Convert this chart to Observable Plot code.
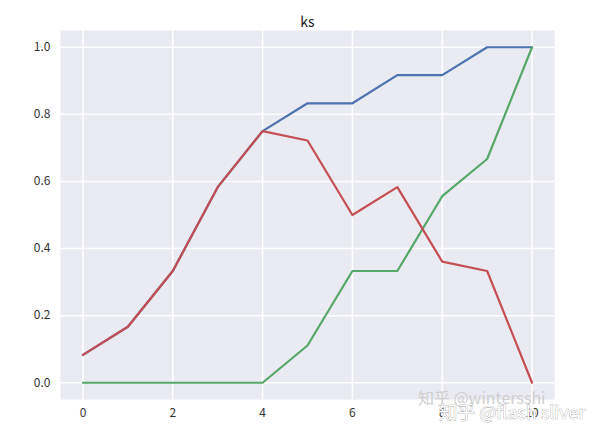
<!DOCTYPE html>
<html><head><meta charset="utf-8">
<script src="https://cdn.jsdelivr.net/npm/d3@7"></script>
<script src="https://cdn.jsdelivr.net/npm/@observablehq/plot@0.6"></script>
<style>
html,body{margin:0;padding:0;background:#fff;}
#chart svg{display:block;}
</style>
</head><body><div id="chart"></div>
<script>
const xs = [0,1,2,3,4,5,6,7,8,9,10];
const tpr = [0.083,0.167,0.333,0.583,0.75,0.833,0.833,0.917,0.917,1.0,1.0];
const fpr = [0,0,0,0,0,0.111,0.333,0.333,0.556,0.667,1.0];
const ks  = [0.083,0.167,0.333,0.583,0.75,0.722,0.5,0.583,0.361,0.333,0.0];
const xTicks = [0,2,4,6,8,10];
const yTicks = [0,0.2,0.4,0.6,0.8,1.0];
const title = "ks";
const series = [
  {name:"tpr", values:tpr, color:"#4C72B0"},
  {name:"fpr", values:fpr, color:"#55A868"},
  {name:"ks",  values:ks,  color:"#C44E52"}
];
const rows = series.flatMap(s => xs.map((x,i)=>({x, y:s.values[i], name:s.name})));
const font = "'Noto Sans CJK SC', 'DejaVu Sans', sans-serif";

const chart = Plot.plot({
  width:600, height:441,
  marginLeft:60, marginRight:46, marginTop:30, marginBottom:42,
  style:{fontFamily:font, fontSize:"12px", color:"#333", background:"#fff"},
  x:{domain:[-0.5,10.5], ticks:xTicks, tickFormat:d=>String(d), tickSize:0, tickPadding:9, label:null},
  y:{domain:[-0.05,1.05], ticks:yTicks, tickFormat:d3.format(".1f"), tickSize:0, tickPadding:10, label:null},
  color:{domain:series.map(s=>s.name), range:series.map(s=>s.color)},
  marks:[
    Plot.frame({fill:"#EAEAF2", stroke:null}),
    Plot.gridX(xTicks, {stroke:"#fff", strokeOpacity:1, strokeWidth:1.5}),
    Plot.gridY(yTicks, {stroke:"#fff", strokeOpacity:1, strokeWidth:1.5}),
    Plot.axisX(xTicks, {tickSize:0, tickPadding:9, tickFormat:d=>String(d), fill:"#333", fontSize:12, label:null}),
    Plot.axisY(yTicks, {tickSize:0, tickPadding:10, tickFormat:d3.format(".1f"), fill:"#333", fontSize:12, label:null, style:{letterSpacing:"1px"}}),
    Plot.line(rows, {x:"x", y:"y", z:"name", stroke:"name", strokeWidth:2.2}),
    Plot.text([title], {frameAnchor:"top", dy:-13, fontSize:14, fill:"#222", fontFamily:font, style:{letterSpacing:"1px"}}),
    Plot.text(["知乎 @wintersshi"], {frameAnchor:"bottom-right", dx:-9, dy:4, textAnchor:"end", fontSize:16, fill:"#cfcfcf"}),
    Plot.text(["知乎 @flash sliver"], {frameAnchor:"bottom-right", dx:31, dy:19, textAnchor:"end", fontSize:18, fill:"#fff", stroke:"#9a9a9a", strokeWidth:0.7})
  ]
});
document.getElementById("chart").appendChild(chart);
</script>
</body></html>
